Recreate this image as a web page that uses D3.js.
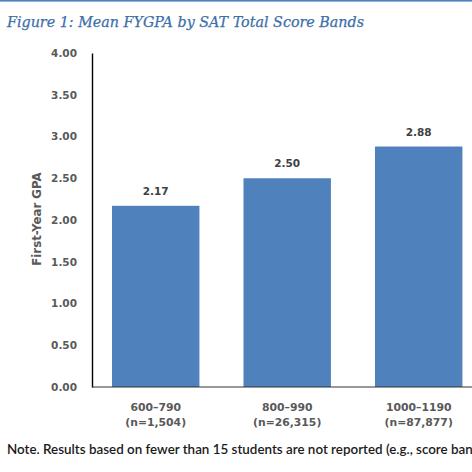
<!DOCTYPE html>
<html>
<head>
<meta charset="utf-8">
<script src="https://cdn.jsdelivr.net/npm/d3@7"></script>
<style>
html,body{margin:0;padding:0;background:#fff;overflow:hidden;}
svg{display:block;}
</style>
</head>
<body>
<svg id="chart" width="472" height="472"></svg>
<script>
const categories = ["600–790", "800–990", "1000–1190"];
const sampleSizes = ["(n=1,504)", "(n=26,315)", "(n=87,877)"];
const meanGPA = [2.17, 2.50, 2.88];
const yTicks = [0, 0.5, 1, 1.5, 2, 2.5, 3, 3.5, 4];
const titleText = "Figure 1: Mean FYGPA by SAT Total Score Bands";
const yTitle = "First-Year GPA";
const noteText = "Note. Results based on fewer than 15 students are not reported (e.g., score bands below 600).";

const svg = d3.select("#chart");
const W = 472, H = 472;
const SANS = "Lato, 'Open Sans', sans-serif";
const BOLD = "'DejaVu Sans', sans-serif";

svg.append("rect").attr("x",0).attr("y",0).attr("width",W).attr("height",1.6).attr("fill","#4f81bd");

svg.append("text")
  .attr("x",7).attr("y",27)
  .attr("font-family","'DejaVu Serif', serif")
  .attr("font-style","italic")
  .attr("font-size",14.3)
  .attr("fill","#3d6fa8")
  .attr("stroke","#3d6fa8").attr("stroke-width",0.25)
  .text(titleText);

const x = d3.scaleBand().domain(categories).range([92, 482.4]).paddingInner(0.335).paddingOuter(0.152);
const y = d3.scaleLinear().domain([0,4]).range([387, 53]);

const g = svg.append("g");

g.selectAll("rect.bar").data(meanGPA).join("rect")
  .attr("class","bar")
  .attr("x",(d,i)=>x(categories[i]))
  .attr("y",d=>y(d))
  .attr("width",x.bandwidth())
  .attr("height",d=>y(0)-y(d))
  .attr("fill","#4f81bd");

g.selectAll("text.val").data(meanGPA).join("text")
  .attr("class","val")
  .attr("x",(d,i)=>x(categories[i])+x.bandwidth()/2)
  .attr("y",d=>y(d)-11)
  .attr("text-anchor","middle")
  .attr("font-family",BOLD)
  .attr("font-weight","bold")
  .attr("font-size",10.5)
  .attr("fill","#404040")
  .text(d=>d.toFixed(2));

// y axis
const yAxis = d3.axisLeft(y).tickValues(yTicks).tickSize(0).tickPadding(15).tickFormat(d3.format(".2f"));
const ya = svg.append("g").attr("transform","translate(92,0)").call(yAxis);
ya.select(".domain").attr("stroke","#000").attr("stroke-width",1.4);
ya.selectAll("text")
  .attr("font-family",BOLD)
  .attr("font-weight","bold")
  .attr("font-size",10.5)
  .attr("fill","#595959");

// x axis baseline
const xAxis = d3.axisBottom(x).tickSize(0).tickFormat("");
const xa = svg.append("g").attr("transform","translate(0,387)").call(xAxis);
xa.select(".domain").attr("d","M92,0H472").attr("stroke","#333").attr("stroke-width",1.2);

// x labels
const xl = svg.append("g");
categories.forEach((c,i)=>{
  const cx = x(c)+x.bandwidth()/2;
  const t = xl.append("text")
    .attr("x",cx).attr("text-anchor","middle")
    .attr("font-family",BOLD)
    .attr("font-weight","bold")
    .attr("font-size",10.8)
    .attr("fill","#595959");
  t.append("tspan").attr("x",cx).attr("y",411).text(c);
  t.append("tspan").attr("x",cx).attr("y",426).text(sampleSizes[i]);
});

svg.append("text")
  .attr("transform","translate(41,219) rotate(-90)")
  .attr("text-anchor","middle")
  .attr("font-family",BOLD)
  .attr("font-weight","bold")
  .attr("font-size",11.8)
  .attr("fill","#595959")
  .text(yTitle);

svg.append("text")
  .attr("x",7).attr("y",454)
  .attr("font-family",SANS)
  .attr("font-weight","600")
  .attr("font-size",13.4)
  .attr("fill","#1a1a1a")
  .text(noteText);
</script>
</body>
</html>
